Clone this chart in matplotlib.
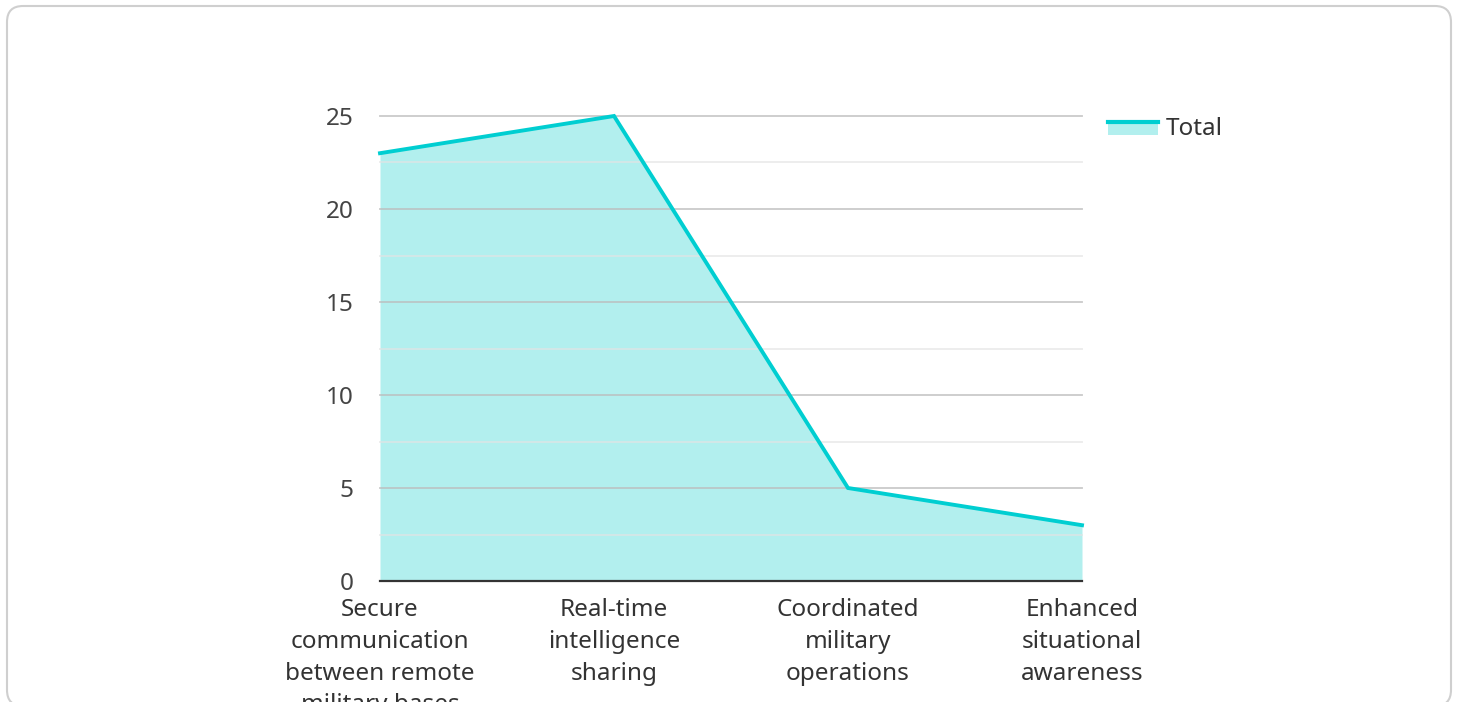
import matplotlib
matplotlib.use("Agg")
import matplotlib.pyplot as plt
from matplotlib.patches import FancyBboxPatch, Patch
from matplotlib.lines import Line2D
from matplotlib.legend_handler import HandlerBase
import numpy as np

plt.rcParams['font.family'] = ['Noto Sans', 'DejaVu Sans']

categories = [
    "Secure\ncommunication\nbetween remote\nmilitary bases",
    "Real-time\nintelligence\nsharing",
    "Coordinated\nmilitary\noperations",
    "Enhanced\nsituational\nawareness",
]
totals = [23, 25, 5, 3]
series_name = "Total"
y_ticks = [0, 5, 10, 15, 20, 25]

line_color = "#00CED1"
fill_color = "#B2EFEE"

W, H = 1458, 702
fig = plt.figure(figsize=(W / 100, H / 100), dpi=100)

# card outline with rounded corners (bottom edge runs past the canvas)
card = FancyBboxPatch((7, -4), 1444, 700, boxstyle="round,pad=0,rounding_size=16",
                      transform=None, facecolor="none", edgecolor="#cfcfcf",
                      linewidth=1.5, zorder=-10)
fig.patches.append(card)

ax = fig.add_axes([380 / W, 1 - 581 / H, (1082 - 380) / W, (581 - 116) / H])
ax.set_facecolor("none")

x = np.arange(len(categories))
ax.fill_between(x, totals, 0, color=fill_color, linewidth=0, zorder=1)
ax.plot(x, totals, color=line_color, linewidth=2.8, zorder=4,
        solid_joinstyle="miter", clip_on=False)

ax.set_xlim(0, len(categories) - 1)
ax.set_ylim(0, 25)

# gridlines: major every 5, minor halfway
for v in np.arange(2.5, 25.01, 2.5):
    major = abs(v % 5) < 1e-9
    ax.axhline(v, color="#bdbdbd" if major else "#e3e3e3", linewidth=1.3,
               alpha=0.8 if major else 0.7, zorder=2, clip_on=False)
ax.axhline(0, color="#333333", linewidth=1.6, zorder=5, clip_on=False)

for s in ax.spines.values():
    s.set_visible(False)

ax.set_yticks(y_ticks)
ax.set_yticklabels([str(v) for v in y_ticks])
ax.set_xticks(x)
ax.set_xticklabels(categories, linespacing=1.44)
ax.tick_params(axis="y", length=0, pad=19, labelsize=17.5, labelcolor="#444444")
ax.tick_params(axis="x", length=0, pad=12, labelsize=17.5, labelcolor="#333333")


class AreaHandler(HandlerBase):
    def create_artists(self, legend, orig_handle, xdescent, ydescent, width,
                       height, fontsize, trans):
        rect = plt.Rectangle((-xdescent, -ydescent), width, height * 0.75,
                             facecolor=fill_color, edgecolor="none", transform=trans)
        ln = Line2D([-xdescent, -xdescent + width],
                    [-ydescent + height * 0.75] * 2, color=line_color,
                    linewidth=3, transform=trans)
        return [rect, ln]


handle = Patch(facecolor=fill_color)
leg = fig.legend([handle], [series_name], handler_map={Patch: AreaHandler()},
                 loc="upper left", bbox_to_anchor=(1091 / W, 1 - 100 / H),
                 frameon=False, fontsize=17.5, handlelength=2.06, handleheight=0.7,
                 handletextpad=0.3, borderpad=0.2)
for t in leg.get_texts():
    t.set_color("#333333")

fig.savefig("out.png", dpi=100)
